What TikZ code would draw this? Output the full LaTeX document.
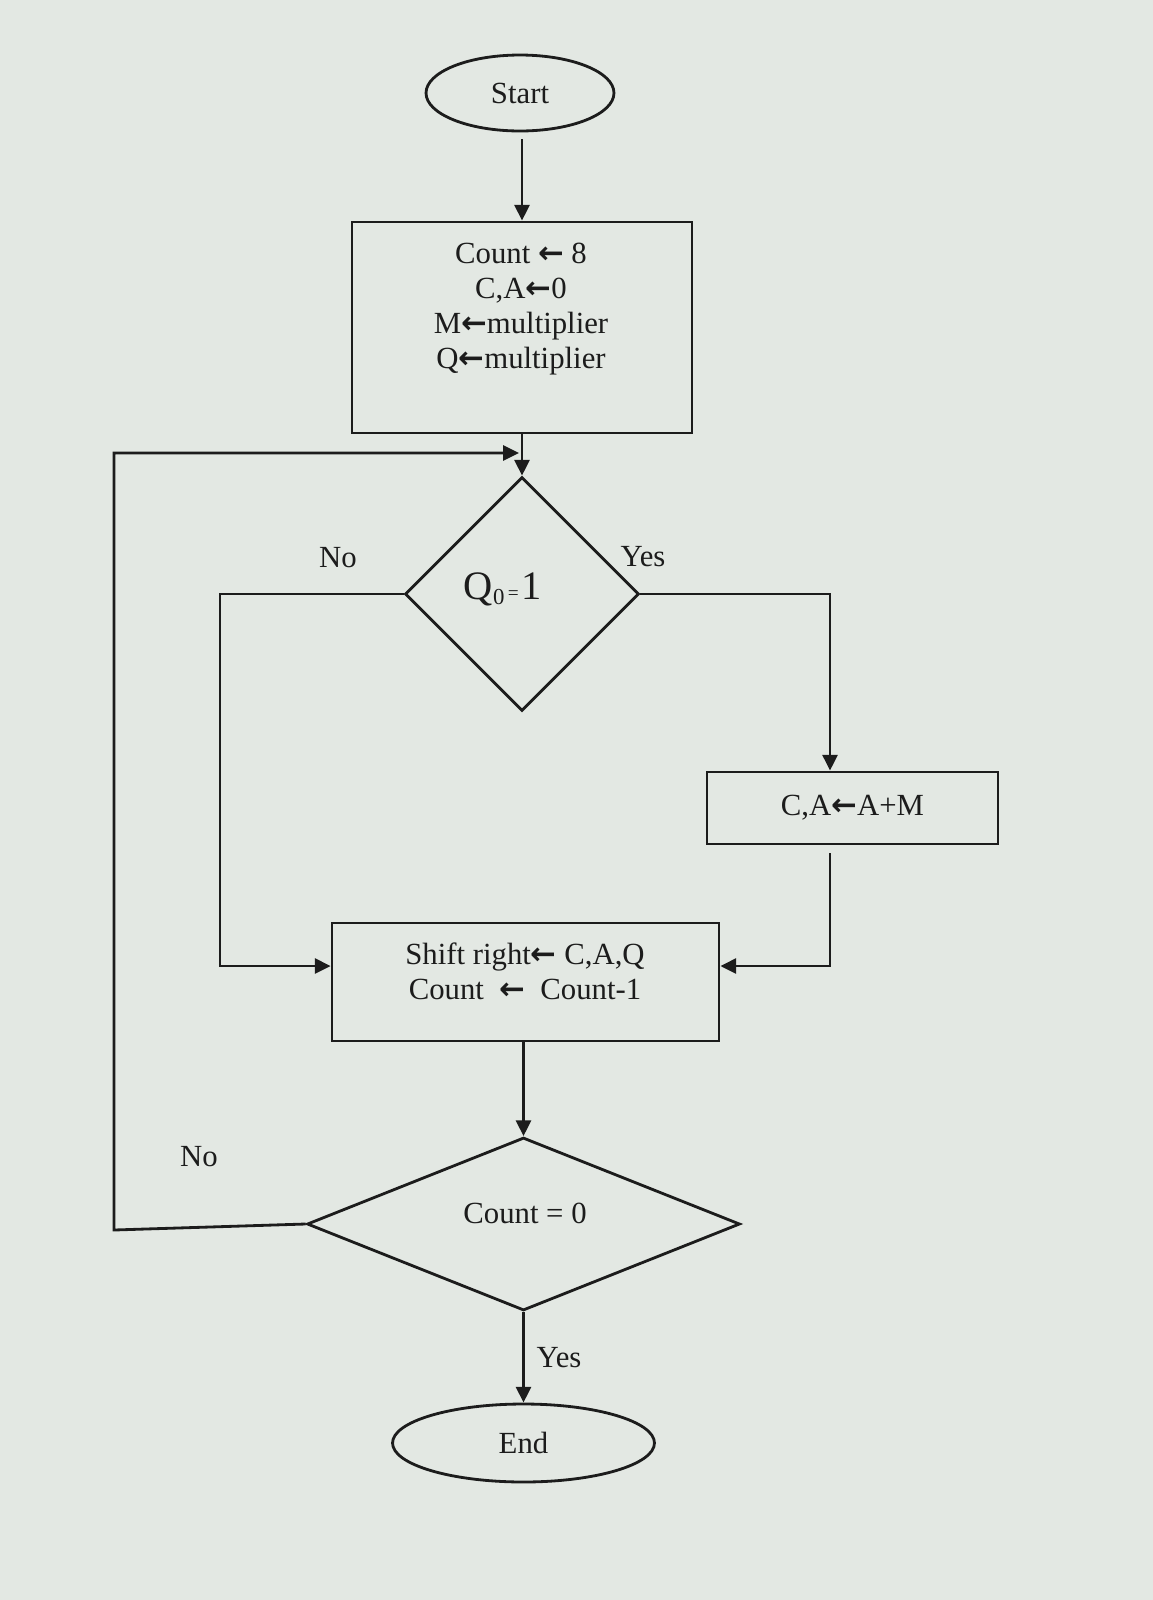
\documentclass[tikz,border=0pt]{standalone}
\usepackage{fontspec}
\setmainfont{Liberation Serif}
\newfontfamily\arrf{DejaVu Sans}
\usetikzlibrary{shapes.geometric,arrows.meta}
\newcommand{\lar}{{\arrf\bfseries ←}}
\definecolor{ink}{HTML}{1C1C1C}
\definecolor{paper}{HTML}{E3E8E3}
\begin{document}
\begin{tikzpicture}[x=0.02cm,y=-0.02cm,
  line/.style={draw=ink,line width=1.6pt},
  arr/.style={line,-{Triangle[length=9pt,width=8.5pt]}},
  txt/.style={font=\fontsize{17.5}{20}\selectfont,align=center,text=ink,inner sep=0pt},
  term/.style={ellipse,line,inner sep=0pt,txt},
  proc/.style={rectangle,line,inner sep=0pt,txt},
  dec/.style={diamond,line,inner sep=0pt}]
\fill[paper] (0,0) rectangle (1153,1600);
\useasboundingbox (0,0) rectangle (1153,1600);

% nodes
\node[term,minimum width=3.76cm,minimum height=1.52cm] (start) at (520,93) {Start};
\node[proc,minimum width=6.8cm,minimum height=4.22cm] (init) at (522,327.5) {};
\node[txt] (inittxt) at (521,309) {Count \lar{} 8\\C,A\lar0\\M\lar multiplier\\Q\lar multiplier};
\node[dec,minimum width=4.68cm,minimum height=4.68cm] (d1) at (522,594) {};
\node[txt] (q0) at (503,589) {{\fontsize{23}{23}\selectfont Q}\raisebox{-3pt}{\fontsize{13}{13}\selectfont 0}{\fontsize{11}{11}\selectfont\,=\,}{\fontsize{23}{23}\selectfont 1}};
\node[proc,minimum width=5.82cm,minimum height=1.44cm] (ca) at (852.5,808) {C,A\lar A+M};
\node[proc,minimum width=7.74cm,minimum height=2.36cm] (shift) at (525.5,982) {};
\node[txt] (shifttxt) at (525,971) {Shift right\lar{} C,A,Q\\Count \ \lar\ \ Count-1};
\node[dec,minimum width=8.66cm,minimum height=3.46cm] (d2) at (523.5,1224) {};
\node[txt] (d2txt) at (525,1213) {Count = 0};
\node[term,minimum width=5.24cm,minimum height=1.56cm] (end) at (523.5,1443) {End};

% labels
\node[txt] (lno1) at (338,558) {No};
\node[txt] (lyes1) at (643,557) {Yes};
\node[txt] (lno2) at (199,1157) {No};
\node[txt] (lyes2) at (559,1358) {Yes};

% helper coordinates
\coordinate (loopend) at (519,453);
\coordinate (loopc1) at (114,1230);
\coordinate (loopc2) at (114,453);
\coordinate (noc) at (220,966);
\coordinate (yline) at (0,966);

% connectors
\draw[arr,shorten <=4pt] (start.south -| init.north) -- (init.north);
\draw[arr] (init.south -| d1.north) -- (d1.north);
\draw[arr] (d2.west) -- (loopc1) -- (loopc2) -- (loopend);
\draw[arr] (d1.west) -| (noc) -- (shift.west |- yline);
\draw[arr] (d1.east) -| ([xshift=-0.45cm]ca.north);
\draw[arr,shorten <=4.5pt] ([xshift=-0.45cm]ca.south) |- (shift.east |- yline);
\draw[arr] (shift.south -| d2.north) -- (d2.north);
\draw[arr] (d2.south) -- (end.north);
\end{tikzpicture}
\end{document}
